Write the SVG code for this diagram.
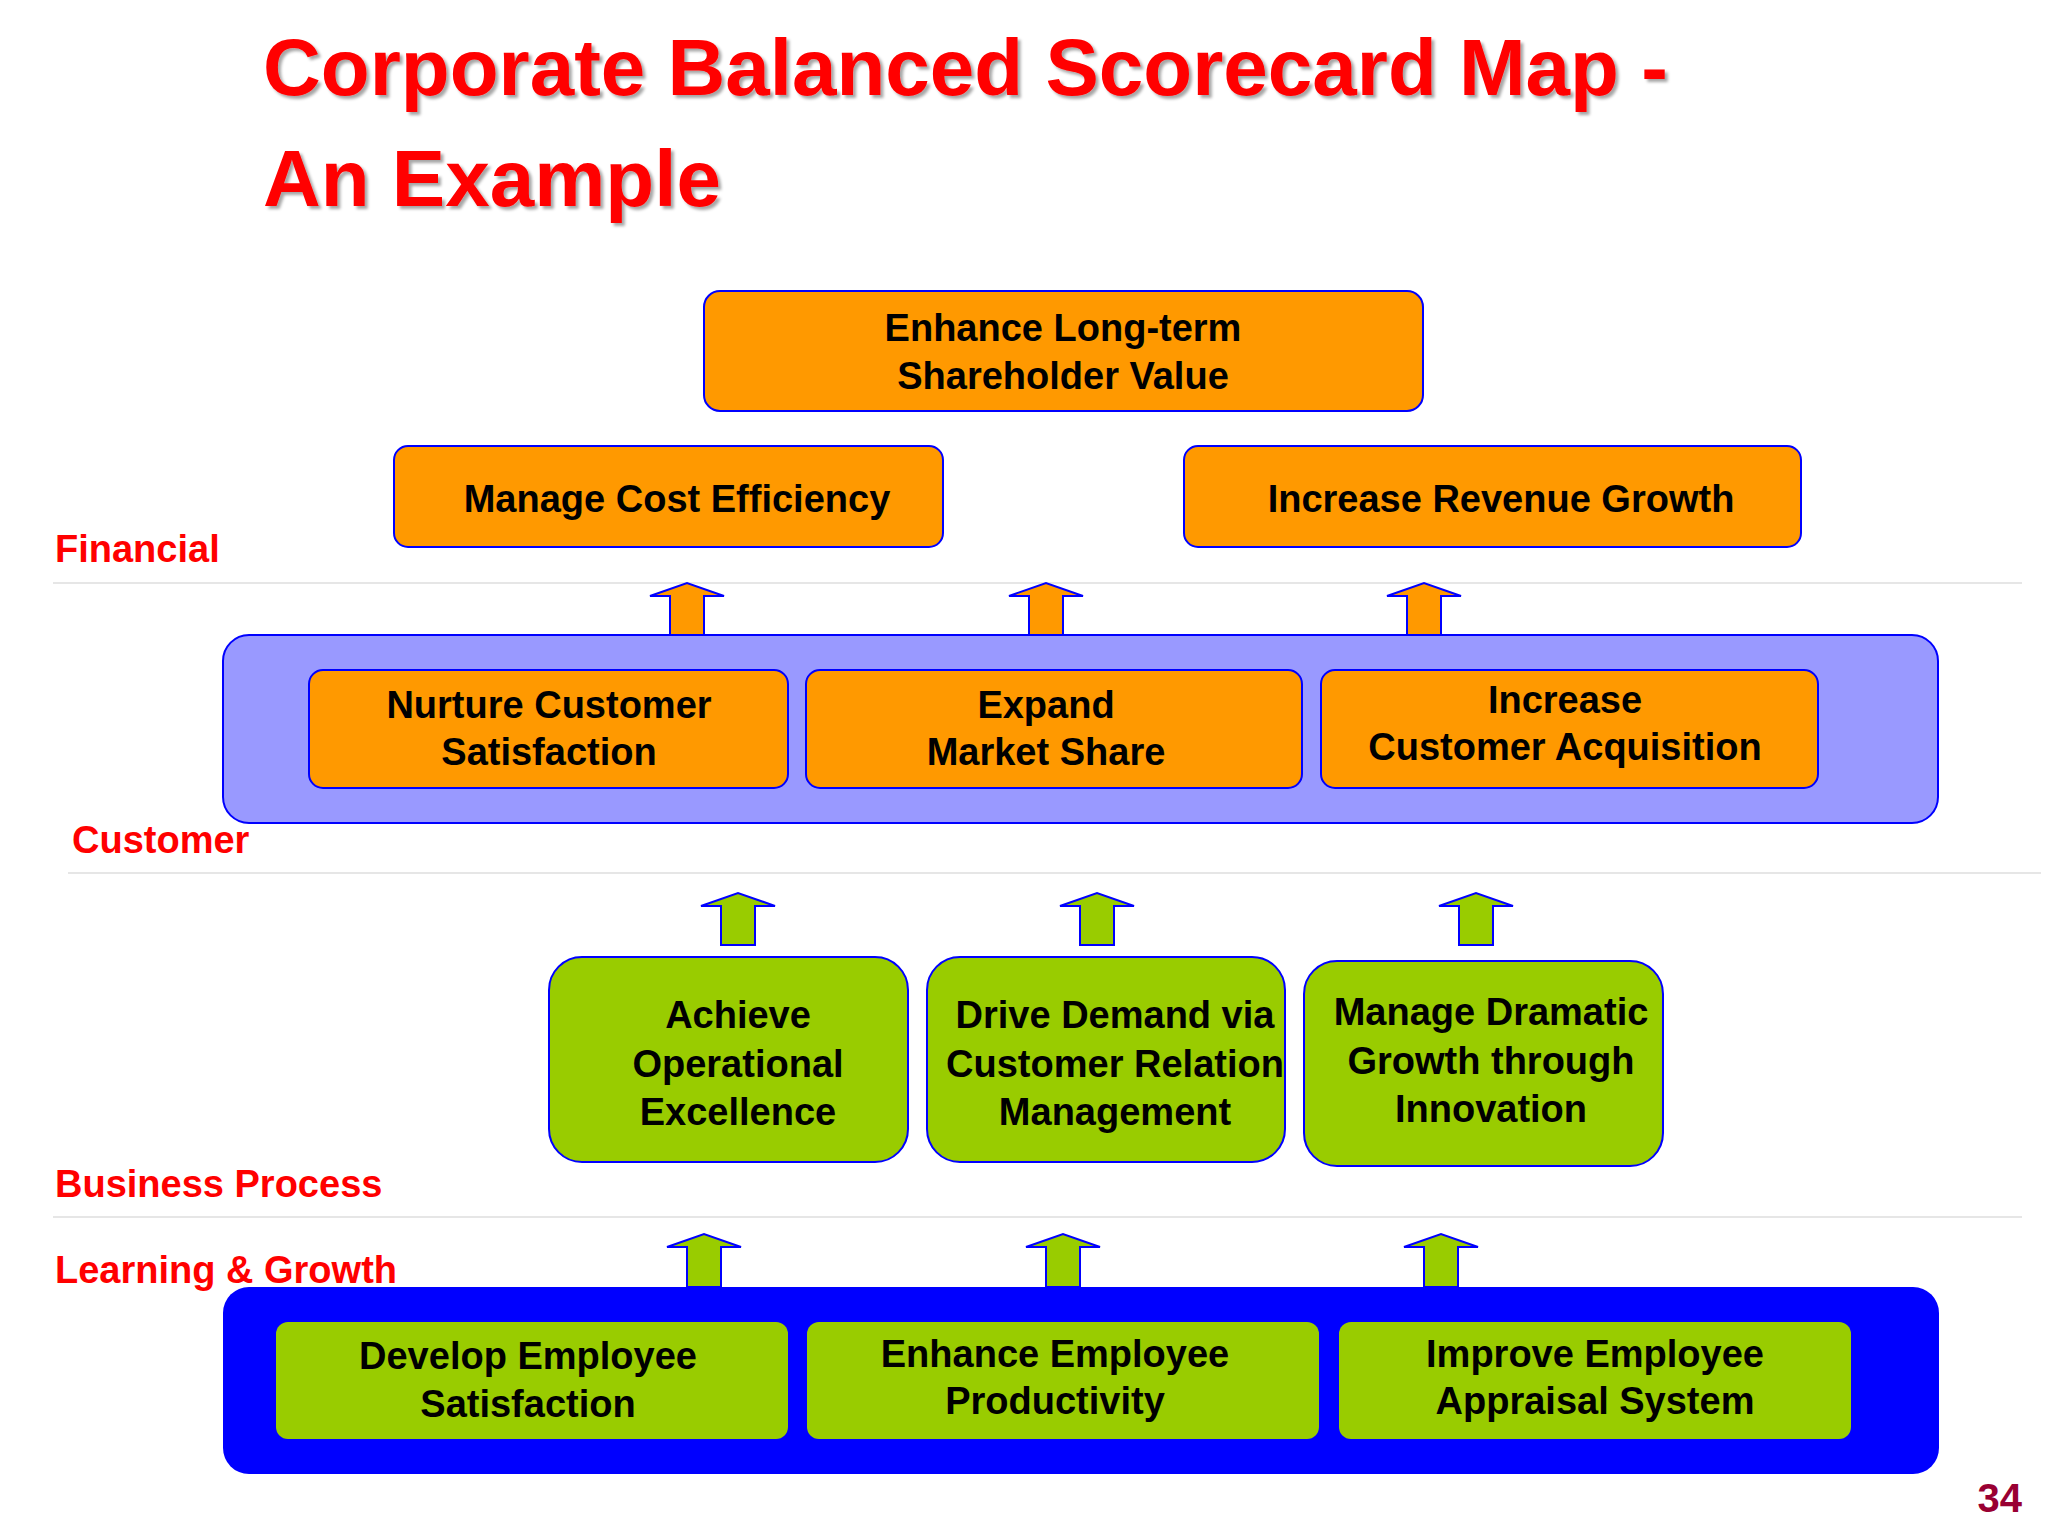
<svg xmlns="http://www.w3.org/2000/svg" width="2048" height="1536" viewBox="0 0 2048 1536">
<defs>
<filter id="sh" x="-5%" y="-20%" width="110%" height="140%"><feDropShadow dx="3" dy="3" stdDeviation="1.5" flood-color="#000" flood-opacity="0.35"/></filter>
<style>
.t{font-family:"Liberation Sans",Arial,sans-serif;font-weight:bold;font-size:38px;fill:#000;text-anchor:middle}
.lab{font-family:"Liberation Sans",Arial,sans-serif;font-weight:bold;font-size:38px;fill:#FF0000}
.or{fill:#FF9900;stroke:#0000FF;stroke-width:2}
.gr{fill:#99CC00;stroke:#0000FF;stroke-width:2}
.gb{fill:#99CC00;stroke:none}
.sep{stroke:#E6E6E6;stroke-width:2}
</style>
</defs>
<rect width="2048" height="1536" fill="#fff"/>
<g id="title" filter="url(#sh)" font-family="Liberation Sans,Arial,sans-serif" font-weight="bold" font-size="80" fill="#FF0000">
<text x="263" y="95">Corporate Balanced Scorecard Map -</text>
<text x="263" y="206">An Example</text>
</g>
<g id="separators">
<line class="sep" x1="53" y1="583" x2="2022" y2="583"/>
<line class="sep" x1="68" y1="873" x2="2041" y2="873"/>
<line class="sep" x1="53" y1="1217" x2="2022" y2="1217"/>
</g>
<g id="labels">
<text class="lab" x="55" y="562">Financial</text>
<text class="lab" x="72" y="853">Customer</text>
<text class="lab" x="55" y="1197">Business Process</text>
<text class="lab" x="55" y="1283">Learning &amp; Growth</text>
</g>
<g id="customer-panel"><rect x="223" y="635" width="1715" height="188" rx="26" fill="#9999FF" stroke="#0000FF" stroke-width="2"/></g>
<g id="learning-panel"><rect x="223" y="1287" width="1716" height="187" rx="26" fill="#0000FF"/></g>
<g id="connectors" stroke="#0000FF" stroke-width="2">
<polygon fill="#FF9900" points="650,596 687,583 724,596 704,596 704,635 670,635 670,596"/>
<polygon fill="#FF9900" points="1009,596 1046,583 1083,596 1063,596 1063,635 1029,635 1029,596"/>
<polygon fill="#FF9900" points="1387,596 1424,583 1461,596 1441,596 1441,635 1407,635 1407,596"/>
<polygon fill="#99CC00" points="701,906 738,893 775,906 755,906 755,945 721,945 721,906"/>
<polygon fill="#99CC00" points="1060,906 1097,893 1134,906 1114,906 1114,945 1080,945 1080,906"/>
<polygon fill="#99CC00" points="1439,906 1476,893 1513,906 1493,906 1493,945 1459,945 1459,906"/>
<polygon fill="#99CC00" points="667,1247 704,1234 741,1247 721,1247 721,1287 687,1287 687,1247"/>
<polygon fill="#99CC00" points="1026,1247 1063,1234 1100,1247 1080,1247 1080,1287 1046,1287 1046,1247"/>
<polygon fill="#99CC00" points="1404,1247 1441,1234 1478,1247 1458,1247 1458,1287 1424,1287 1424,1247"/>
</g>
<g id="n-shareholder"><rect class="or" x="704" y="291" width="719" height="120" rx="16"/><text class="t" x="1063" y="341">Enhance Long-term</text><text class="t" x="1063" y="389">Shareholder Value</text></g>
<g id="n-cost"><rect class="or" x="394" y="446" width="549" height="101" rx="14"/><text class="t" x="677" y="512">Manage Cost Efficiency</text></g>
<g id="n-revenue"><rect class="or" x="1184" y="446" width="617" height="101" rx="14"/><text class="t" x="1501" y="512">Increase Revenue Growth</text></g>
<g id="n-satisfaction"><rect class="or" x="309" y="670" width="479" height="118" rx="14"/><text class="t" x="549" y="718">Nurture Customer</text><text class="t" x="549" y="765">Satisfaction</text></g>
<g id="n-market"><rect class="or" x="806" y="670" width="496" height="118" rx="14"/><text class="t" x="1046" y="718">Expand</text><text class="t" x="1046" y="765">Market Share</text></g>
<g id="n-acquisition"><rect class="or" x="1321" y="670" width="497" height="118" rx="14"/><text class="t" x="1565" y="713">Increase</text><text class="t" x="1565" y="760">Customer Acquisition</text></g>
<g id="n-operational"><rect class="gr" x="549" y="957" width="359" height="205" rx="33"/><text class="t" x="738" y="1028">Achieve</text><text class="t" x="738" y="1077">Operational</text><text class="t" x="738" y="1125">Excellence</text></g>
<g id="n-demand"><rect class="gr" x="927" y="957" width="358" height="205" rx="33"/><text class="t" x="1115" y="1028">Drive Demand via</text><text class="t" x="1115" y="1077">Customer Relation</text><text class="t" x="1115" y="1125">Management</text></g>
<g id="n-growth"><rect class="gr" x="1304" y="961" width="359" height="205" rx="33"/><text class="t" x="1491" y="1025">Manage Dramatic</text><text class="t" x="1491" y="1074">Growth through</text><text class="t" x="1491" y="1122">Innovation</text></g>
<g id="n-emp-sat"><rect class="gb" x="276" y="1322" width="512" height="117" rx="12"/><text class="t" x="528" y="1369">Develop Employee</text><text class="t" x="528" y="1417">Satisfaction</text></g>
<g id="n-emp-prod"><rect class="gb" x="807" y="1322" width="512" height="117" rx="12"/><text class="t" x="1055" y="1367">Enhance Employee</text><text class="t" x="1055" y="1414">Productivity</text></g>
<g id="n-appraisal"><rect class="gb" x="1339" y="1322" width="512" height="117" rx="12"/><text class="t" x="1595" y="1367">Improve Employee</text><text class="t" x="1595" y="1414">Appraisal System</text></g>
<text x="2022" y="1512" text-anchor="end" font-family="Liberation Sans,Arial,sans-serif" font-weight="bold" font-size="40" fill="#990033">34</text>
</svg>
